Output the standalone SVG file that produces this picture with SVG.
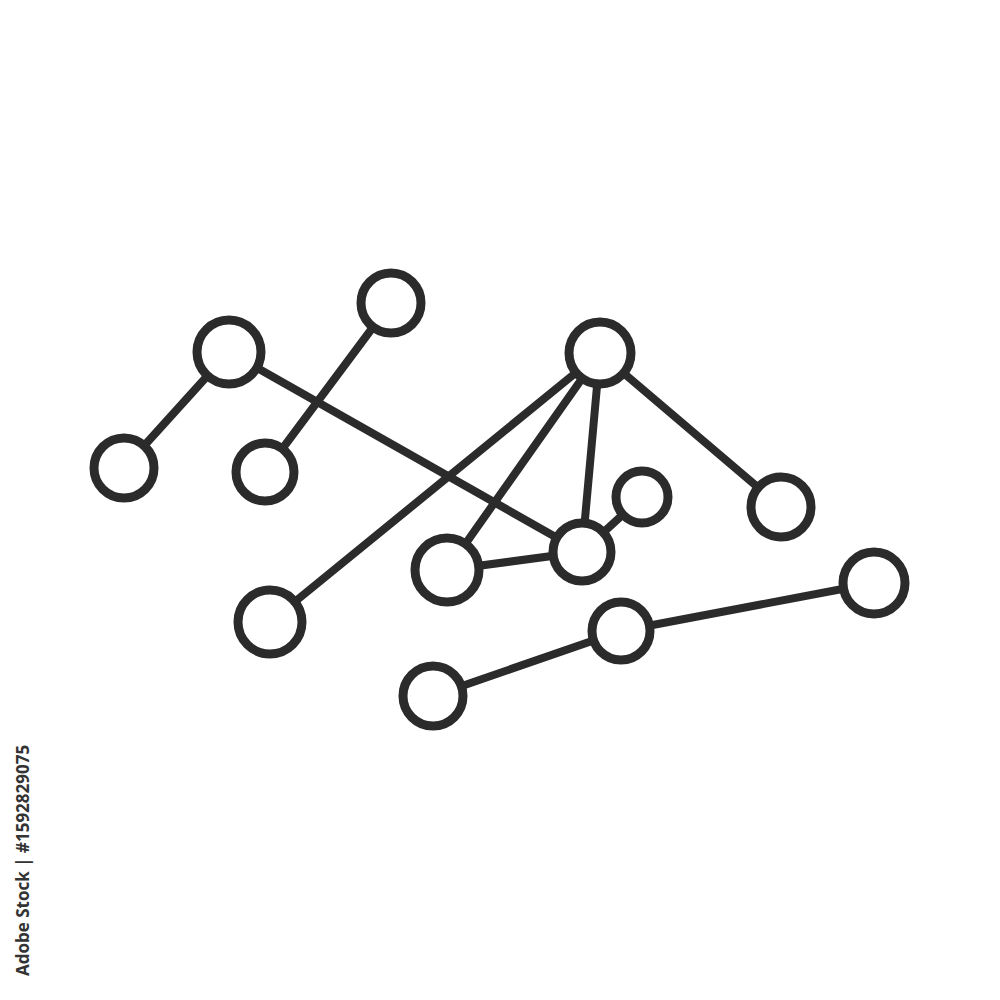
<svg xmlns="http://www.w3.org/2000/svg" width="1000" height="1000" viewBox="0 0 1000 1000">
<style>
.e{stroke:#2b2b2b;stroke-width:8;stroke-linecap:round;fill:none}
.n{stroke:#2b2b2b;stroke-width:9;fill:#fff}
.wm{font-family:"Open Sans","Noto Sans",sans-serif;font-size:17px;font-weight:700;fill:#333}
</style>
<rect width="1000" height="1000" fill="#fff"/>
<g id="connectors">
<line class="e" x1="124" y1="468" x2="229" y2="352"/>
<line class="e" x1="229" y1="352" x2="582" y2="552"/>
<line class="e" x1="391" y1="303" x2="265" y2="472"/>
<line class="e" x1="600" y1="353" x2="270" y2="622"/>
<line class="e" x1="600" y1="353" x2="447" y2="570"/>
<line class="e" x1="600" y1="353" x2="582" y2="552"/>
<line class="e" x1="600" y1="353" x2="781" y2="507"/>
<line class="e" x1="447" y1="570" x2="582" y2="552"/>
<line class="e" x1="582" y1="552" x2="642" y2="497"/>
<line class="e" x1="433" y1="696" x2="621" y2="631"/>
<line class="e" x1="621" y1="631" x2="874" y2="583"/>
</g>
<g id="nA"><circle class="n" cx="229" cy="352" r="32"/></g>
<g id="nB"><circle class="n" cx="391" cy="303" r="30"/></g>
<g id="nC"><circle class="n" cx="124" cy="468" r="30"/></g>
<g id="nD"><circle class="n" cx="265" cy="472" r="29"/></g>
<g id="nE"><circle class="n" cx="600" cy="353" r="31"/></g>
<g id="nF"><circle class="n" cx="642" cy="497" r="26"/></g>
<g id="nG"><circle class="n" cx="781" cy="507" r="30"/></g>
<g id="nH"><circle class="n" cx="582" cy="552" r="29"/></g>
<g id="nI"><circle class="n" cx="447" cy="570" r="32"/></g>
<g id="nJ"><circle class="n" cx="270" cy="622" r="32"/></g>
<g id="nK"><circle class="n" cx="874" cy="583" r="31"/></g>
<g id="nL"><circle class="n" cx="621" cy="631" r="29"/></g>
<g id="nM"><circle class="n" cx="433" cy="696" r="30"/></g>
<text class="wm" transform="translate(29,976) rotate(-90)">Adobe Stock | #1592829075</text>
</svg>
